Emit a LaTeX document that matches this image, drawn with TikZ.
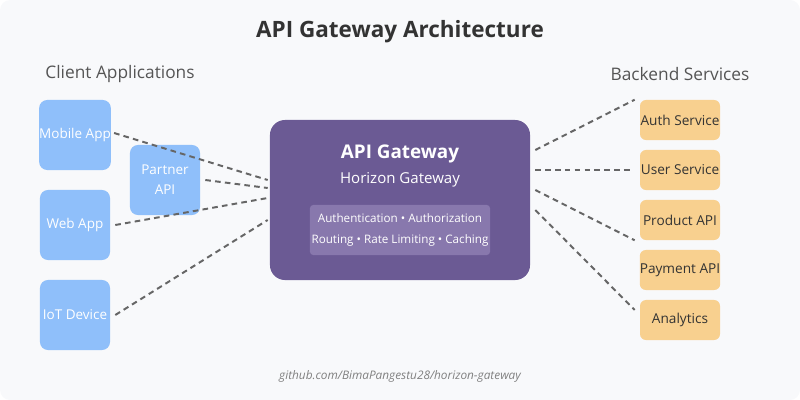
\documentclass[tikz,border=0pt]{standalone}
\usepackage{fontspec}
\setmainfont{Open Sans}
\usetikzlibrary{calc, positioning}
\definecolor{canvas}{HTML}{F8F9FB}
\definecolor{darktext}{HTML}{333333}
\definecolor{graytext}{HTML}{555555}
\definecolor{clientblue}{HTML}{8FBFFA}
\definecolor{gwpurple}{HTML}{6B5A94}
\definecolor{gwlight}{HTML}{8878AD}
\definecolor{svcorange}{HTML}{F8D08F}
\definecolor{linkgray}{HTML}{666666}
\tikzset{
  % dashed connector
  link/.style={
    draw=linkgray
    , line width=1.4pt
    , dash pattern=on 4pt off 3pt
  },
}
\tikzset{
  % client application box
  client/.style={
    fill=clientblue
    , text=white
    , rounded corners=0.2cm
    , minimum width=1.75cm
    , minimum height=1.75cm
    , inner sep=0pt
    , align=center
    , font=\fontsize{9.6}{14}\selectfont
  },
}
\tikzset{
  % backend service box
  service/.style={
    fill=svcorange
    , text=darktext
    , rounded corners=0.15cm
    , minimum width=2cm
    , minimum height=1cm
    , inner sep=0pt
    , font=\fontsize{9.7}{11}\selectfont
  },
}
\tikzset{
  % column heading
  heading/.style={
    text=graytext
    , font=\fontsize{12.3}{14}\selectfont
  },
}

\begin{document}
\begin{tikzpicture}[x=0.025cm, y=-0.025cm]
  \useasboundingbox (0,0) rectangle (800,400);
  \fill[canvas, rounded corners=0.25cm] (0,0) rectangle (800,400);

  \node[text=darktext, font=\bfseries\fontsize{16}{18}\selectfont]
    (title) at (400,32) {API Gateway Architecture};
  \node[heading] (clienthead) at (120,74) {Client Applications};
  \node[heading] (backhead) at (680,74) {Backend Services};

  % clients
  \node[client] (mobile) at (75,135) {Mobile App};
  \node[client] (web) at (75,225) {Web App};
  \node[client] (iot) at (75,315) {IoT Device};
  \node[client] (partner) at (165,180) {Partner\\API};

  % gateway
  \node[fill=gwpurple, rounded corners=0.375cm
       , minimum width=6.5cm, minimum height=4cm] (gw) at (400,200) {};
  \node[text=white, font=\bfseries\fontsize{13.4}{15}\selectfont]
    (gwtitle) at (400,154) {API Gateway};
  \node[text=white, font=\fontsize{10.7}{12}\selectfont]
    (gwsub) at (400,180) {Horizon Gateway};
  \node[fill=gwlight, rounded corners=0.08cm, minimum width=4.5cm
       , minimum height=1.25cm, inner sep=0pt, text=white, align=center
       , font=\fontsize{8.3}{15}\selectfont]
    (features) at (400,230)
    {Authentication • Authorization\\Routing • Rate Limiting • Caching};

  % services
  \node[service] (auth) at (680,120) {Auth Service};
  \node[service] (user) at (680,170) {User Service};
  \node[service] (product) at (680,220) {Product API};
  \node[service] (payment) at (680,270) {Payment API};
  \node[service] (analytics) at (680,320) {Analytics};

  % client links
  \draw[link] ($(mobile.east)+(3,-2)$) -- ($(gw.west)+(-2,-20)$);
  \draw[link] ($(partner.east)+(5,0)$) -- ($(gw.west)+(-2,-12)$);
  \draw[link] ($(web.east)+(5,0)$) -- ($(gw.west)+(-2,-2)$);
  \draw[link] ($(iot.east)+(5,0)$) -- ($(gw.west)+(-2,20)$);

  % service links
  \draw[link] ($(gw.east)+(5,-50)$) -- ($(auth.north west)+(-5,0)$);
  \draw[link] ($(gw.east)+(5,-30)$) -- ($(user.west)+(-10,0)$);
  \draw[link] ($(gw.east)+(5,-10)$) -- ($(product.south west)+(-5,0)$);
  \draw[link] ($(gw.east)+(5,10)$) -- ($(analytics.west)+(-5,-10)$);

  \node[text=gray, font=\itshape\fontsize{8.4}{9}\selectfont]
    (footer) at (400,376) {github.com/BimaPangestu28/horizon-gateway};
\end{tikzpicture}
\end{document}
